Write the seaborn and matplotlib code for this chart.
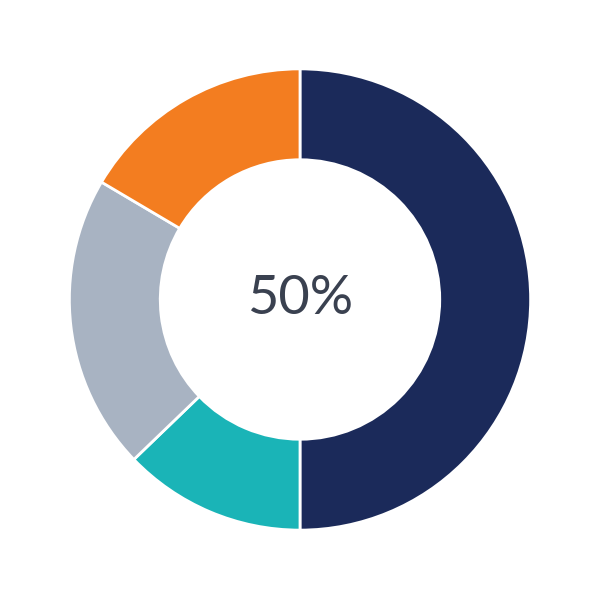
import matplotlib
matplotlib.use("Agg")
import matplotlib.pyplot as plt
import seaborn as sns

# Segment shares (percent), clockwise from the top
labels = ["Navy", "Teal", "Gray", "Orange"]
values = [50, 12.8, 20.7, 16.5]
colors = ["#1b2a5a", "#1ab4b7", "#a8b3c2", "#f37d20"]
center_text = "50%"

sns.set_theme(style="white")
plt.rcParams['font.family'] = ['Lato', 'DejaVu Sans']

fig = plt.figure(figsize=(6, 5.99), dpi=100)
ax = fig.add_axes([0, 0, 1, 1])

ax.pie(values, colors=colors, startangle=90, counterclock=False,
       radius=1, wedgeprops=dict(width=0.394, edgecolor="white", linewidth=2))

ax.text(0, 0.005, center_text, ha="center", va="center", fontsize=39,
        color="#3a4150")

lim = 300 / 231
ax.set_xlim(-lim, lim)
ax.set_ylim(-lim, lim)
ax.set_aspect("equal")
ax.axis("off")

plt.savefig("out.png", dpi=100, facecolor="white")
plt.close()
